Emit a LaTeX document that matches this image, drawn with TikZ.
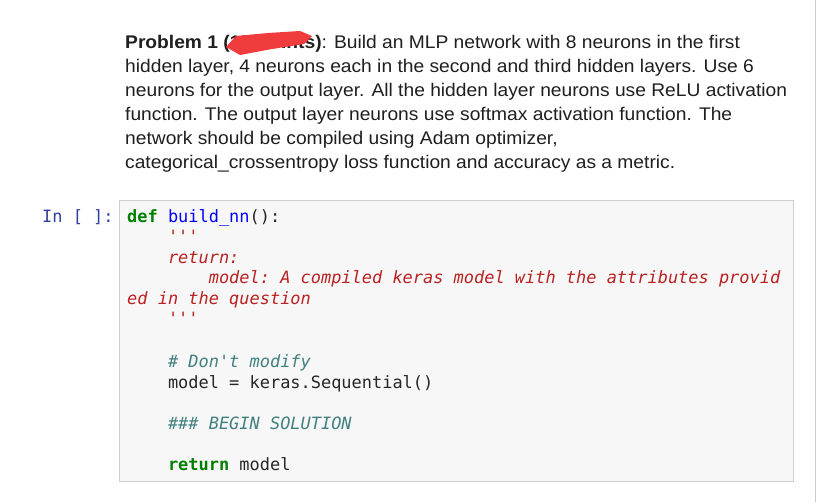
\documentclass[tikz,border=0pt]{standalone}
\usepackage{fontspec}
\setmainfont[FakeStretch=1.05]{Liberation Sans}
\setmonofont{DejaVu Sans Mono}
\definecolor{cellbg}{HTML}{F7F7F7}
\definecolor{cellbd}{HTML}{CFCFCF}
\definecolor{prompt}{HTML}{303F9F}
\definecolor{kw}{HTML}{008000}
\definecolor{fn}{HTML}{0000FF}
\definecolor{str}{HTML}{BA2121}
\definecolor{cmt}{HTML}{408080}
\definecolor{scrib}{HTML}{F03C3C}
\newcommand{\ind}[1]{\phantom{#1}}
\begin{document}
\begin{tikzpicture}[x=1pt,y=-1pt,
  para/.style={anchor=base west,inner sep=0pt,font=\fontsize{18.3}{20}\selectfont,text=black!88},
  code/.style={anchor=base west,inner sep=0pt,font=\fontsize{16.95}{20}\ttfamily,text=black!85}]
\useasboundingbox (0,0) rectangle (840,502);
\fill[white] (0,0) rectangle (840,502);
\draw[black!20] (815,0) -- (815,502);
\node[para] (p1) at (125,49) {\textbf{Problem 1 (15 Points)}: Build an MLP network with 8 neurons in the first};
\node[para] (p2) at (125,73) {hidden layer, 4 neurons each in the second and third hidden layers. Use 6};
\node[para] (p3) at (125,97) {neurons for the output layer. All the hidden layer neurons use ReLU activation};
\node[para] (p4) at (125,121) {function. The output layer neurons use softmax activation function. The};
\node[para] (p5) at (125,145) {network should be compiled using Adam optimizer,};
\node[para] (p6) at (125,169) {categorical\_crossentropy loss function and accuracy as a metric.};
\fill[scrib] (226,47) -- (236,36) -- (268,33) -- (300,31) -- (312,36) -- (304,44) -- (272,49) -- (240,55) -- cycle;
\draw[cellbd,fill=cellbg] (119,200) rectangle (793,481);
\node[code,text=prompt] (in) at (42,223) {In [ ]:};
\node[code] (c1) at (127,223) {\textcolor{kw}{\bfseries def} \textcolor{fn}{build\_nn}():};
\node[code,text=str] (c2) at (127,243) {\ind{xxxx}'''};
\node[code,text=str] (c3) at (127,264) {\itshape\ind{xxxx}return:};
\node[code,text=str] (c4) at (127,284) {\itshape\ind{xxxxxxxx}model: A compiled keras model with the attributes provid};
\node[code,text=str] (c5) at (127,305) {\itshape ed in the question};
\node[code,text=str] (c6) at (127,325) {\ind{xxxx}'''};
\node[code,text=cmt] (c7) at (127,367) {\itshape\ind{xxxx}\# Don't modify};
\node[code] (c8) at (127,388) {\ind{xxxx}model = keras.Sequential()};
\node[code,text=cmt] (c9) at (127,429) {\itshape\ind{xxxx}\#\#\# BEGIN SOLUTION};
\node[code] (c10) at (127,470) {\ind{xxxx}\textcolor{kw}{\bfseries return} model};
\end{tikzpicture}
\end{document}
